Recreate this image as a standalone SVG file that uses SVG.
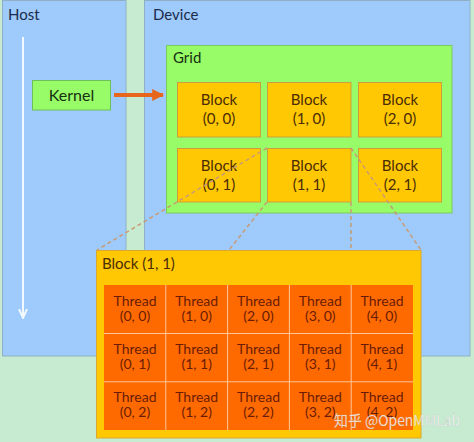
<svg xmlns="http://www.w3.org/2000/svg" width="474" height="442" viewBox="0 0 474 442">
<defs>
<style>
.panel{fill:#9ecbfb;stroke:#8fb0c4;stroke-width:1}
.lbl{font-family:Lato,"Noto Sans",sans-serif;font-size:15px;fill:#1c2a4c}
.blk{fill:#ffc803;stroke:#c9a040;stroke-width:1}
.bt{font-family:Lato,"Noto Sans",sans-serif;font-size:15px;fill:#4a2c05;text-anchor:middle}
.thr{fill:#ff6a00}
.tt{font-family:Lato,"Noto Sans",sans-serif;font-size:14px;fill:#6a1c05;text-anchor:middle}
.dash{stroke:#c99a74;stroke-width:1.5;stroke-dasharray:4 3;fill:none}
</style>
<marker id="oa" viewBox="0 0 10 10" refX="9" refY="5" markerWidth="3" markerHeight="3" orient="auto" markerUnits="strokeWidth"><path d="M0,0 L10,5 L0,10 z" fill="#e8661c"/></marker>
<marker id="wa" viewBox="0 0 10 10" refX="9" refY="5" markerWidth="5" markerHeight="5" orient="auto" markerUnits="strokeWidth"><path d="M0,1 L9,5 L0,9" fill="none" stroke="#f2f8ff" stroke-width="2"/></marker>
</defs>
<rect x="0" y="0" width="474" height="442" fill="#c6ebd1"/>
<g id="host">
<rect class="panel" x="2.5" y="0.5" width="123.5" height="355.5"/>
<text class="lbl" x="8" y="20">Host</text>
</g>
<g id="device">
<rect class="panel" x="144.5" y="0.5" width="325.5" height="355.5"/>
<text class="lbl" x="153" y="20">Device</text>
</g>
<g id="kernel">
<rect x="32.5" y="80.5" width="78" height="29.5" fill="#98fb68" stroke="#6fbf5a" stroke-width="1"/>
<text class="lbl" x="71.5" y="100.5" text-anchor="middle" style="fill:#163010;font-size:16px">Kernel</text>
</g>
<g id="grid">
<rect x="166.5" y="45.5" width="285.5" height="167.5" fill="#98fb68" stroke="#7ccb5e" stroke-width="1"/>
<text class="lbl" x="173" y="63" style="fill:#163010">Grid</text>
</g>
<g id="block00"><rect class="blk" x="177.5" y="82.5" width="83" height="54.5"/><text class="bt" x="219" y="105">Block</text><text class="bt" x="219" y="124">(0, 0)</text></g>
<g id="block10"><rect class="blk" x="267.5" y="82.5" width="83.5" height="54.5"/><text class="bt" x="309" y="105">Block</text><text class="bt" x="309" y="124">(1, 0)</text></g>
<g id="block20"><rect class="blk" x="358.5" y="82.5" width="83" height="54.5"/><text class="bt" x="400" y="105">Block</text><text class="bt" x="400" y="124">(2, 0)</text></g>
<g id="block01"><rect class="blk" x="177.5" y="148.5" width="83" height="53.5"/><text class="bt" x="219" y="171">Block</text><text class="bt" x="219" y="190">(0, 1)</text></g>
<g id="block11"><rect class="blk" x="267.5" y="148.5" width="83.5" height="53.5"/><text class="bt" x="309" y="171">Block</text><text class="bt" x="309" y="190">(1, 1)</text></g>
<g id="block21"><rect class="blk" x="358.5" y="148.5" width="83" height="53.5"/><text class="bt" x="400" y="171">Block</text><text class="bt" x="400" y="190">(2, 1)</text></g>
<g id="block11-detail">
<rect x="96.5" y="250.5" width="324.5" height="187.5" fill="#ffc803" stroke="#d9a830" stroke-width="1"/>
<text class="bt" x="102" y="269" style="text-anchor:start">Block (1, 1)</text>
<rect class="thr" x="104" y="285" width="309" height="145"/>
<g stroke="#ffc79a" stroke-width="1">
<line x1="165.8" y1="285" x2="165.8" y2="430"/>
<line x1="227.6" y1="285" x2="227.6" y2="430"/>
<line x1="289.4" y1="285" x2="289.4" y2="430"/>
<line x1="351.2" y1="285" x2="351.2" y2="430"/>
<line x1="104" y1="333.5" x2="413" y2="333.5"/>
<line x1="104" y1="381.8" x2="413" y2="381.8"/>
</g>
</g>
<g id="threads">
<g id="t00"><text class="tt" x="135" y="306">Thread</text><text class="tt" x="135" y="321">(0, 0)</text></g>
<g id="t10"><text class="tt" x="196.7" y="306">Thread</text><text class="tt" x="196.7" y="321">(1, 0)</text></g>
<g id="t20"><text class="tt" x="258.5" y="306">Thread</text><text class="tt" x="258.5" y="321">(2, 0)</text></g>
<g id="t30"><text class="tt" x="320.3" y="306">Thread</text><text class="tt" x="320.3" y="321">(3, 0)</text></g>
<g id="t40"><text class="tt" x="382" y="306">Thread</text><text class="tt" x="382" y="321">(4, 0)</text></g>
<g id="t01"><text class="tt" x="135" y="354">Thread</text><text class="tt" x="135" y="369">(0, 1)</text></g>
<g id="t11"><text class="tt" x="196.7" y="354">Thread</text><text class="tt" x="196.7" y="369">(1, 1)</text></g>
<g id="t21"><text class="tt" x="258.5" y="354">Thread</text><text class="tt" x="258.5" y="369">(2, 1)</text></g>
<g id="t31"><text class="tt" x="320.3" y="354">Thread</text><text class="tt" x="320.3" y="369">(3, 1)</text></g>
<g id="t41"><text class="tt" x="382" y="354">Thread</text><text class="tt" x="382" y="369">(4, 1)</text></g>
<g id="t02"><text class="tt" x="135" y="402">Thread</text><text class="tt" x="135" y="417">(0, 2)</text></g>
<g id="t12"><text class="tt" x="196.7" y="402">Thread</text><text class="tt" x="196.7" y="417">(1, 2)</text></g>
<g id="t22"><text class="tt" x="258.5" y="402">Thread</text><text class="tt" x="258.5" y="417">(2, 2)</text></g>
<g id="t32"><text class="tt" x="320.3" y="402">Thread</text><text class="tt" x="320.3" y="417">(3, 2)</text></g>
<g id="t42"><text class="tt" x="382" y="402">Thread</text><text class="tt" x="382" y="417">(4, 2)</text></g>
</g>
<g id="connectors">
<line x1="23" y1="37" x2="23" y2="318" stroke="#f2f8ff" stroke-width="2" marker-end="url(#wa)"/>
<line x1="114" y1="95" x2="163" y2="95" stroke="#e8661c" stroke-width="4" marker-end="url(#oa)"/>
<line class="dash" x1="267" y1="148" x2="97" y2="250"/>
<line class="dash" x1="267" y1="202" x2="229" y2="250"/>
<line class="dash" x1="351" y1="202" x2="351" y2="250"/>
<line class="dash" x1="351" y1="148" x2="421" y2="250"/>
</g>
<text x="334" y="426" font-family="'Noto Sans CJK SC',Lato,sans-serif" font-size="15" textLength="126" lengthAdjust="spacingAndGlyphs" fill="#ffffff" fill-opacity="0.85" stroke="#9a9a9a" stroke-opacity="0.35" stroke-width="0.6">知乎 @OpenMMLab</text>
</svg>
